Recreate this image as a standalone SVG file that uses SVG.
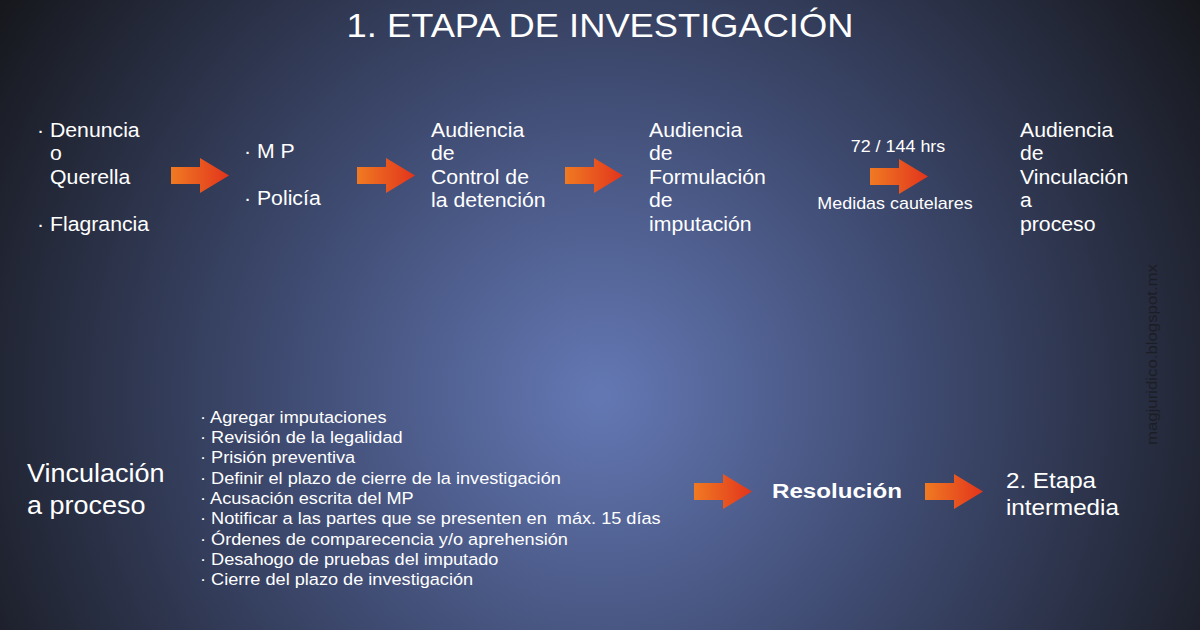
<svg xmlns="http://www.w3.org/2000/svg" width="1200" height="630" viewBox="0 0 1200 630">
<defs>
<radialGradient id="bg" cx="600" cy="395" r="720" gradientUnits="userSpaceOnUse">
<stop offset="0" stop-color="#6478b4"/>
<stop offset="0.45" stop-color="#3e4a70"/>
<stop offset="1" stop-color="#16171c"/>
</radialGradient>
<linearGradient id="ar" x1="0" y1="0" x2="1" y2="0">
<stop offset="0" stop-color="#f07a22"/>
<stop offset="1" stop-color="#e2341c"/>
</linearGradient>
<path id="arrow" d="M0,9 H29 V0 L58,17.5 L29,35 V26 H0 Z" fill="url(#ar)"/>
</defs>
<style>
text{font-family:"Liberation Sans",Arial,sans-serif;fill:#ffffff;white-space:pre}
.t{font-size:19.5px}
.l{font-size:16.5px}
.s{font-size:16px}
</style>
<rect width="1200" height="630" fill="url(#bg)"/>
<text x="600" y="37" font-size="33" text-anchor="middle" transform="matrix(1.1 0 0 1 -60 0)">1. ETAPA DE INVESTIGACIÓN</text>
<g id="n1" transform="matrix(1.09 0 0 1 -3.33 0)"><text class="t" x="37" y="137">· Denuncia</text><text class="t" x="49" y="160">o</text><text class="t" x="49" y="184">Querella</text><text class="t" x="37" y="231">· Flagrancia</text></g>
<g id="n2" transform="matrix(1.09 0 0 1 -21.96 0)"><text class="t" x="244" y="158">· M P</text><text class="t" x="244" y="205">· Policía</text></g>
<g id="n3" transform="matrix(1.09 0 0 1 -38.79 0)"><text class="t" x="431" y="137">Audiencia</text><text class="t" x="431" y="160">de</text><text class="t" x="431" y="184">Control de</text><text class="t" x="431" y="207">la detención</text></g>
<g id="n4" transform="matrix(1.09 0 0 1 -58.41 0)"><text class="t" x="649" y="137">Audiencia</text><text class="t" x="649" y="160">de</text><text class="t" x="649" y="184">Formulación</text><text class="t" x="649" y="207">de</text><text class="t" x="649" y="231">imputación</text></g>
<g id="n5" transform="matrix(1.09 0 0 1 -91.8 0)"><text class="t" x="1020" y="137">Audiencia</text><text class="t" x="1020" y="160">de</text><text class="t" x="1020" y="184">Vinculación</text><text class="t" x="1020" y="207">a</text><text class="t" x="1020" y="231">proceso</text></g>
<g id="n6" transform="matrix(1.08 0 0 1 -2.16 0)"><text font-size="25" x="27" y="482">Vinculación</text><text font-size="25" x="27" y="514">a proceso</text></g>
<g id="n7" transform="matrix(1.1 0 0 1 -20 0)"><text class="l" x="200" y="423">· Agregar imputaciones</text><text class="l" x="200" y="443">· Revisión de la legalidad</text><text class="l" x="200" y="463">· Prisión preventiva</text><text class="l" x="200" y="484">· Definir el plazo de cierre de la investigación</text><text class="l" x="200" y="504">· Acusación escrita del MP</text><text class="l" x="200" y="524">· Notificar a las partes que se presenten en  máx. 15 días</text><text class="l" x="200" y="545">· Órdenes de comparecencia y/o aprehensión</text><text class="l" x="200" y="565">· Desahogo de pruebas del imputado</text><text class="l" x="200" y="585">· Cierre del plazo de investigación</text></g>
<g id="n8" transform="matrix(1.15 0 0 1 -115.8 0)"><text font-size="21" font-weight="bold" x="772" y="498">Resolución</text></g>
<g id="n9" transform="matrix(1.1 0 0 1 -100.6 0)"><text font-size="22" x="1006" y="488">2. Etapa</text><text font-size="22" x="1006" y="515">intermedia</text></g>
<g id="connectors">
<use href="#arrow" x="171" y="158"/>
<use href="#arrow" x="357" y="158"/>
<use href="#arrow" x="565" y="158"/>
<use href="#arrow" x="870" y="159"/>
<text class="s" x="898" y="152" text-anchor="middle" transform="matrix(1.12 0 0 1 -107.76 0)">72 / 144 hrs</text>
<text class="s" x="895" y="209" text-anchor="middle" transform="matrix(1.12 0 0 1 -107.4 0)">Medidas cautelares</text>
<use href="#arrow" x="694" y="474"/>
<use href="#arrow" x="925" y="474"/>
</g>
<text x="0" y="0" font-size="15" transform="translate(1157 445) rotate(-90) scale(1.12 1)" style="fill:#1c1e26">magjuridico.blogspot.mx</text>
</svg>
